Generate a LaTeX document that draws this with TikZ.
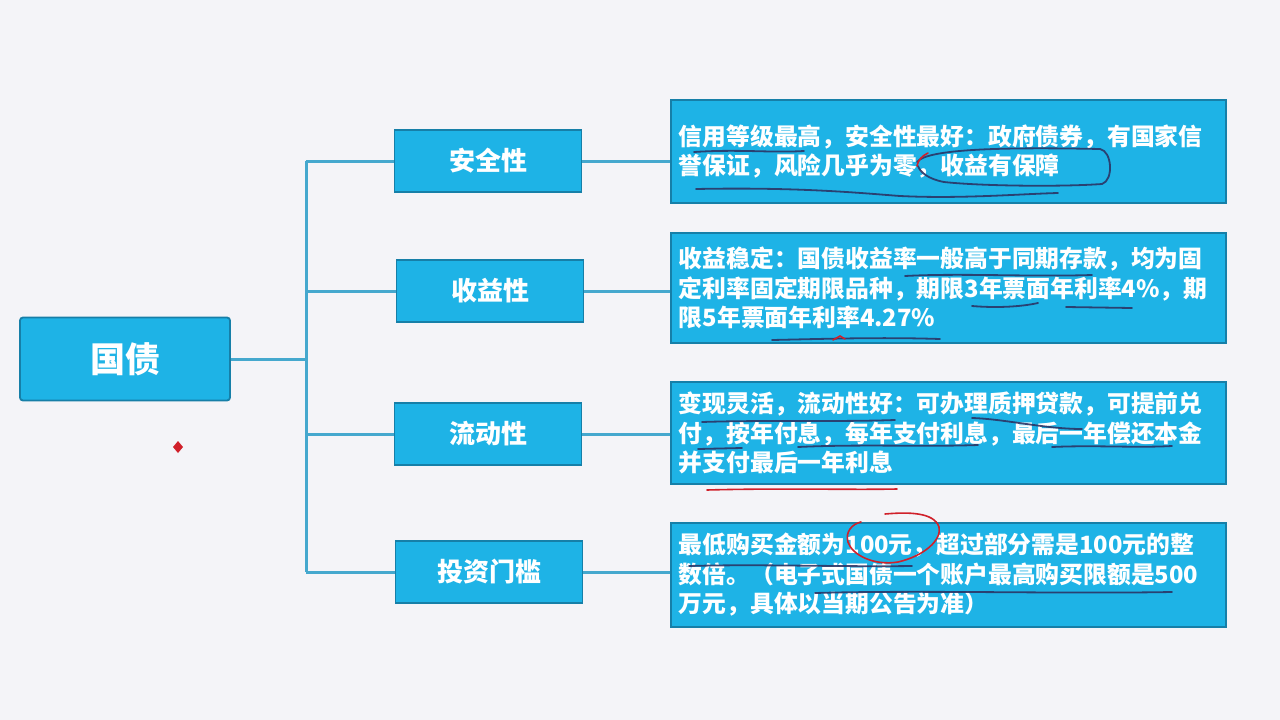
\documentclass[tikz,border=0pt]{standalone}
\usepackage{fontspec}
\setmainfont{Noto Sans CJK SC}
\definecolor{bg}{HTML}{F4F4F8}
\definecolor{boxfill}{HTML}{1EB3E6}
\definecolor{boxedge}{HTML}{167FA8}
\definecolor{wire}{HTML}{45A8CE}
\definecolor{pendark}{HTML}{2B3566}
\definecolor{penred}{HTML}{D0202A}
\begin{document}
\begin{tikzpicture}[x=1pt,y=-1pt,
  base/.style={draw=boxedge,line width=1.8pt,fill=boxfill,text=white,font=\bfseries,inner sep=0pt},
  rootbox/.style={base,rounded corners=3pt,minimum width=210pt,minimum height=83pt,font=\bfseries\fontsize{35}{38}\selectfont},
  branchbox/.style={base,minimum width=187pt,minimum height=62pt,font=\bfseries\fontsize{26}{30}\selectfont},
  detailbox/.style={base,anchor=west,minimum width=555pt,text width=539pt,inner xsep=8pt,align=left,font=\bfseries\fontsize{23.8}{29.5}\selectfont},
  wireline/.style={draw=wire,line width=3pt},
  handdark/.style={draw=pendark,line width=1.8pt,line cap=round,opacity=0.9},
  handred/.style={draw=penred,line width=1.6pt,line cap=round}]
\fill[bg] (0,0) rectangle (1280,720);
\useasboundingbox (0,0) rectangle (1280,720);

\node[rootbox] (root) at (125,359) {国债};
\node[branchbox] (b1) at (488,161) {安全性};
\node[branchbox] (b2) at (490,291) {收益性};
\node[branchbox] (b3) at (488,434) {流动性};
\node[branchbox] (b4) at (489,572) {投资门槛};

\node[detailbox,minimum height=103pt] (d1) at (670,151.5) {信用等级最高，安全性最好：政府债券，有国家信\\誉保证，风险几乎为零，收益有保障};
\node[detailbox,minimum height=110pt] (d2) at (670,288) {收益稳定：国债收益率一般高于同期存款，均为固\\定利率固定期限品种，期限3年票面年利率4\%，期\\限5年票面年利率4.27\%};
\node[detailbox,minimum height=102pt] (d3) at (670,433) {变现灵活，流动性好：可办理质押贷款，可提前兑\\付，按年付息，每年支付利息，最后一年偿还本金\\并支付最后一年利息};
\node[detailbox,minimum height=104pt] (d4) at (670,575) {最低购买金额为100元，超过部分需是100元的整\\数倍。（电子式国债一个账户最高购买限额是500\\万元，具体以当期公告为准）};

\coordinate (trunk) at (306,0);
\draw[wireline] (root.east) -- (root.east -| trunk);
\draw[wireline] (b1.west -| trunk) -- (b4.west -| trunk);
\foreach \b/\d in {b1/d1,b2/d2,b3/d3,b4/d4}{
  \draw[wireline] (\b.west -| trunk) -- (\b.west);
  \draw[wireline] (\b.east) -- (\b.east -| \d.west);
}

% pointer dot
\fill[penred] (178,441) -- (183,447) -- (178,453) -- (173,447) -- cycle;

% hand annotations, box 1
\draw[handdark] (694,152) .. controls (740,149) and (770,153) .. (804,151);
\draw[handdark] (917,162) .. controls (927,149) and (1000,147) .. (1100,149)
  .. controls (1112,151) and (1114,180) .. (1102,184)
  .. controls (1060,187) and (980,186) .. (944,182)
  .. controls (928,179) and (920,172) .. (918,166);
\draw[handred] (917,166) .. controls (918,160) and (922,156) .. (928,153);
\draw[handdark] (696,189) .. controls (800,187) and (860,193) .. (900,196)
  .. controls (960,199) and (1020,194) .. (1058,193);
% box 2
\draw[handdark] (905,276) .. controls (960,273) and (1030,277) .. (1092,275);
\draw[handdark] (972,306) .. controls (995,308) and (1020,307) .. (1038,303);
\draw[handdark] (1066,307) -- (1132,308);
\draw[handdark] (772,340) .. controls (820,339) and (880,337) .. (940,339);
\draw[handred] (833,340) -- (840,336) -- (845,339);
% box 3
\draw[handdark] (702,422) .. controls (760,420) and (840,422) .. (895,420);
\draw[handdark] (972,418) .. controls (1005,419) and (1045,429) .. (1082,429);
\draw[handdark] (698,449) -- (742,448);
\draw[handdark] (798,447) .. controls (860,444) and (925,447) .. (978,445);
\draw[handdark] (1052,447) .. controls (1095,445) and (1135,448) .. (1172,446);
\draw[handred] (707,490) .. controls (780,488) and (850,490) .. (897,489);
% box 4
\draw[handred] (885,514) .. controls (908,512) and (934,512) .. (939,527)
  .. controls (942,540) and (924,556) .. (898,562)
  .. controls (874,566) and (852,555) .. (848,542)
  .. controls (845,532) and (852,524) .. (861,522);
\draw[handdark] (689,566) .. controls (760,564) and (840,567) .. (912,566);
\draw[handdark] (815,593) .. controls (920,590) and (1060,594) .. (1172,592);
\end{tikzpicture}
\end{document}
